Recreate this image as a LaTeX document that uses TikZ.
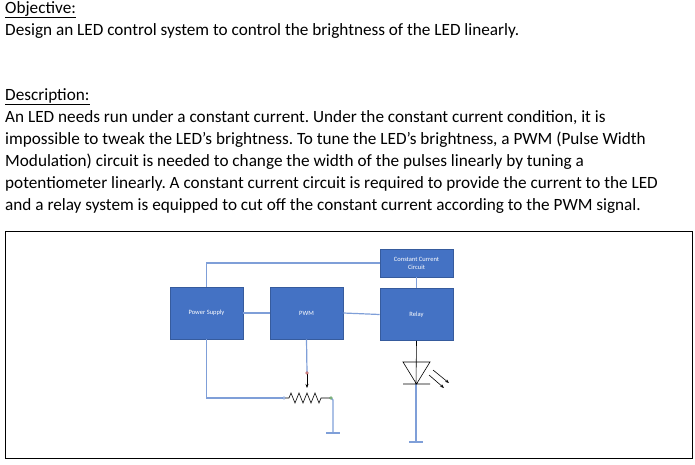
\documentclass[tikz,border=0pt]{standalone}
\usepackage{fontspec}
\setmainfont{Carlito}
\frenchspacing
\usetikzlibrary{arrows.meta}
\definecolor{bx}{HTML}{4472C4}
\definecolor{ln}{HTML}{7F9FD8}
\begin{document}
\begin{tikzpicture}[x=1pt,y=-1pt,
 box/.style={fill=bx,draw=bx!80!black,line width=0.6pt,minimum width=73pt,minimum height=52pt,inner sep=0pt,text=white,font=\fontsize{6.5}{8}\selectfont,align=center},
 wire/.style={draw=ln,line width=1.2pt},
 txt/.style={anchor=north west,inner sep=0pt,font=\fontsize{17.2}{22}\selectfont,align=left}]
\useasboundingbox (0,0) rectangle (695,465);
\node[txt] (t1) at (5,1) {\underline{Objective:}\\Design an LED control system to control the brightness of the LED linearly.};
\node[txt] (t2) at (5,88) {\underline{Description:}\\An LED needs run under a constant current. Under the constant current condition, it is\\impossible to tweak the LED’s brightness. To tune the LED’s brightness, a PWM (Pulse Width\\Modulation) circuit is needed to change the width of the pulses linearly by tuning a\\potentiometer linearly. A constant current circuit is required to provide the current to the LED\\and a relay system is equipped to cut off the constant current according to the PWM signal.};
\draw[black,line width=0.6pt] (5,231) rectangle (692,458);
\node[box,minimum height=28pt] (cc) at (416.5,263) {Constant Current\\Circuit};
\node[box] (ps) at (206.5,313) {Power Supply};
\node[box] (pwm) at (306.5,313) {PWM};
\node[box] (rl) at (416.5,314.5) {Relay};
\coordinate (pl) at (284,398);
\coordinate (pr) at (331,398);
\coordinate (pw) at (307,373);
\coordinate (g1) at (333,433);
\coordinate (g2) at (416,442);
\draw[wire] (ps.north) |- (cc.west);
\draw[wire] (cc.south) -- (rl.north);
\draw[wire] (ps.east) -- (pwm.west);
\draw[wire] (pwm.east) -- (rl.west);
\draw[wire] (ps.south) |- (pl);
\draw[wire] (pwm.south) -- (pw);
\draw[line width=0.6pt,-{Stealth[length=4pt]}] (pw) -- (307,388);
\draw[red!60!black,fill=white] (pw) circle (1.3);
\draw[line width=0.6pt] (pl) -- (289,398) -- (291,393) -- (295,403) -- (299,393) -- (303,403) -- (307,393) -- (311,403) -- (315,393) -- (319,403) -- (321,398) -- (pr);
\draw[bx,fill=white] (pl) circle (1.3);
\draw[wire] (pr) -- (333,400) -- (g1);
\draw[green!40!black,fill=white] (pr) circle (1.3);
\draw[wire] (326,433) -- (340,433);
\draw[line width=0.6pt] (rl.south) -- (416,384);
\draw[wire] (416,384) -- (g2);
\draw[wire] (409,442) -- (423,442);
\draw[line width=0.6pt] (403,362) -- (430,362) -- (416.5,384) -- cycle (403,384) -- (430,384);
\draw[line width=0.6pt,-{Stealth[length=4pt]}] (433,370) -- (449,383);
\draw[line width=0.6pt,-{Stealth[length=4pt]}] (429,375) -- (444,388);
\end{tikzpicture}
\end{document}
